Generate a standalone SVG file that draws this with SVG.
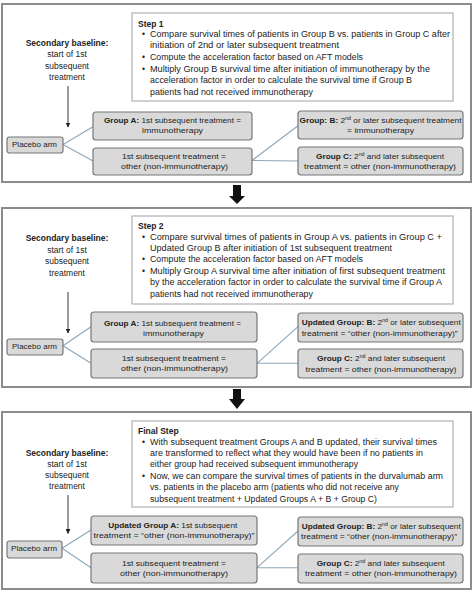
<svg xmlns="http://www.w3.org/2000/svg" width="474" height="593" viewBox="0 0 474 593">
<style>
.t{font-family:"Liberation Sans",Arial,sans-serif;font-size:8.5px;fill:#222}
.n{font-size:8.1px}
.b{font-weight:bold}
.sup{font-size:5.2px}
.panel{fill:#fff;stroke:#8c8c8c;stroke-width:2}
.step{fill:#fff;stroke:#a0a0a0;stroke-width:1}
.node rect{fill:#d9d9d9;stroke:#777;stroke-width:1.2}
.conn line{stroke:#8ca6b9;stroke-width:1.1}
.vline{stroke:#222;stroke-width:0.9;fill:none}
.big{fill:#111}
</style>
<defs>
<marker id="ah" viewBox="0 0 10 10" refX="9" refY="5" markerWidth="5" markerHeight="5" orient="auto" markerUnits="userSpaceOnUse">
<path d="M0,0 L10,5 L0,10 z" fill="#222"/>
</marker>
</defs>
<rect x="0" y="0" width="474" height="593" fill="#fff"/>

<g id="panel1">
<rect class="panel" x="2" y="4" width="469" height="178"/>
<rect class="step" x="132" y="13" width="321" height="88"/>
<text class="t b" x="138" y="27">Step 1</text>
<text class="t" x="142" y="37.3">•</text>
<text class="t" x="150" y="37.3" textLength="300" lengthAdjust="spacingAndGlyphs">Compare survival times of patients in Group B vs. patients in Group C after</text>
<text class="t" x="150" y="48.3" textLength="189" lengthAdjust="spacingAndGlyphs">initiation of 2nd or later subsequent treatment</text>
<text class="t" x="142" y="59.7">•</text>
<text class="t" x="150" y="59.7" textLength="213" lengthAdjust="spacingAndGlyphs">Compute the acceleration factor based on AFT models</text>
<text class="t" x="142" y="72">•</text>
<text class="t" x="150" y="72" textLength="280" lengthAdjust="spacingAndGlyphs">Multiply Group B survival time after initiation of immunotherapy by the</text>
<text class="t" x="150" y="83" textLength="262" lengthAdjust="spacingAndGlyphs">acceleration factor in order to calculate the survival time if Group B</text>
<text class="t" x="150" y="94.7" textLength="163" lengthAdjust="spacingAndGlyphs">patients had not received immunotherapy</text>
<g id="baseline1">
<text class="t b" x="67" y="46" text-anchor="middle">Secondary baseline:</text>
<text class="t" x="67" y="57.3" text-anchor="middle">start of 1st</text>
<text class="t" x="67" y="68.7" text-anchor="middle">subsequent</text>
<text class="t" x="67" y="80" text-anchor="middle">treatment</text>
</g>
</g>

<g id="panel2">
<rect class="panel" x="2" y="208" width="469" height="179"/>
<rect class="step" x="132" y="216" width="321" height="88"/>
<text class="t b" x="138" y="228.7">Step 2</text>
<text class="t" x="142" y="240.3">•</text>
<text class="t" x="150" y="240.3" textLength="292" lengthAdjust="spacingAndGlyphs">Compare survival times of patients in Group A vs. patients in Group C +</text>
<text class="t" x="150" y="251.3" textLength="242" lengthAdjust="spacingAndGlyphs">Updated Group  B after initiation of 1st subsequent treatment</text>
<text class="t" x="142" y="262.3">•</text>
<text class="t" x="150" y="262.3" textLength="213" lengthAdjust="spacingAndGlyphs">Compute the acceleration factor based on AFT models</text>
<text class="t" x="142" y="274">•</text>
<text class="t" x="150" y="274" textLength="295" lengthAdjust="spacingAndGlyphs">Multiply Group A survival time after initiation of first subsequent treatment</text>
<text class="t" x="150" y="285.3" textLength="292" lengthAdjust="spacingAndGlyphs">by the acceleration factor in order to calculate the survival time if Group A</text>
<text class="t" x="150" y="297" textLength="163" lengthAdjust="spacingAndGlyphs">patients had not received immunotherapy</text>
<g id="baseline2">
<text class="t b" x="67" y="241.3" text-anchor="middle">Secondary baseline:</text>
<text class="t" x="67" y="252.8" text-anchor="middle">start of 1st</text>
<text class="t" x="67" y="264.3" text-anchor="middle">subsequent</text>
<text class="t" x="67" y="275.8" text-anchor="middle">treatment</text>
</g>
</g>

<g id="panel3">
<rect class="panel" x="2" y="412" width="469" height="177"/>
<rect class="step" x="132" y="421" width="321" height="86"/>
<text class="t b" x="138" y="434">Final Step</text>
<text class="t" x="142" y="445.3">•</text>
<text class="t" x="150" y="445.3" textLength="287" lengthAdjust="spacingAndGlyphs">With subsequent treatment Groups A and B updated, their survival times</text>
<text class="t" x="150" y="456.3" textLength="273" lengthAdjust="spacingAndGlyphs">are transformed to reflect what they would have been if no patients in</text>
<text class="t" x="150" y="467.3" textLength="208" lengthAdjust="spacingAndGlyphs">either group had received subsequent immunotherapy</text>
<text class="t" x="142" y="478.7">•</text>
<text class="t" x="150" y="478.7" textLength="293" lengthAdjust="spacingAndGlyphs">Now, we can compare the survival times of patients in the durvalumab arm</text>
<text class="t" x="150" y="489.7" textLength="249" lengthAdjust="spacingAndGlyphs">vs. patients in the placebo arm (patients who did not receive any</text>
<text class="t" x="150" y="502.3" textLength="227" lengthAdjust="spacingAndGlyphs">subsequent treatment + Updated Groups A + B + Group  C)</text>
<g id="baseline3">
<text class="t b" x="67" y="456.3" text-anchor="middle">Secondary baseline:</text>
<text class="t" x="67" y="467.3" text-anchor="middle">start of 1st</text>
<text class="t" x="67" y="478" text-anchor="middle">subsequent</text>
<text class="t" x="67" y="489" text-anchor="middle">treatment</text>
</g>
</g>

<path class="big" d="M233,185 H241 V196 H245 L237,204 L229,196 H233 Z"/>
<path class="big" d="M233,389 H241 V399 H245 L237,409 L229,399 H233 Z"/>

<g id="connectors">
<path class="vline" d="M68,86 V127" marker-end="url(#ah)"/>
<path class="vline" d="M68,292 V333" marker-end="url(#ah)"/>
<path class="vline" d="M68,495 V533.5" marker-end="url(#ah)"/>
<g class="conn">
<line x1="63" y1="144.5" x2="93" y2="126.7"/>
<line x1="63" y1="144.5" x2="93" y2="161"/>
<line x1="252" y1="160.5" x2="298" y2="125.7"/>
<line x1="252" y1="160.5" x2="298" y2="161"/>
<line x1="63" y1="345.7" x2="91" y2="326.7"/>
<line x1="63" y1="345.7" x2="91" y2="363.3"/>
<line x1="257" y1="363.3" x2="298" y2="326.7"/>
<line x1="257" y1="363.3" x2="298" y2="363.3"/>
<line x1="62" y1="548.3" x2="91" y2="530"/>
<line x1="62" y1="548.3" x2="91" y2="567.7"/>
<line x1="257" y1="567.7" x2="298" y2="531"/>
<line x1="257" y1="567.7" x2="298" y2="567.7"/>
</g>
</g>

<g id="p1-placebo" class="node"><rect x="7" y="137" width="56" height="16" rx="2.5"/>
<text class="t n" x="12" y="147.3" textLength="45" lengthAdjust="spacingAndGlyphs">Placebo arm</text></g>
<g id="p1-groupA" class="node"><rect x="93" y="112" width="159" height="28" rx="3"/>
<text class="t n" x="104" y="123" textLength="137" lengthAdjust="spacingAndGlyphs"><tspan class="b">Group A:</tspan> 1st subsequent treatment =</text>
<text class="t n" x="142" y="133" textLength="61" lengthAdjust="spacingAndGlyphs">immunotherapy</text></g>
<g id="p1-sub" class="node"><rect x="93" y="148" width="159" height="27" rx="3"/>
<text class="t n" x="122" y="159" textLength="104" lengthAdjust="spacingAndGlyphs">1st subsequent treatment =</text>
<text class="t n" x="121" y="169" textLength="107" lengthAdjust="spacingAndGlyphs">other (non-immunotherapy)</text></g>
<g id="p1-groupB" class="node"><rect x="298" y="111" width="165" height="28" rx="3"/>
<text class="t n" x="299.5" y="122.5" textLength="162" lengthAdjust="spacingAndGlyphs"><tspan class="b">Group: B:</tspan> 2<tspan class="sup" baseline-shift="3">nd</tspan> or later subsequent treatment</text>
<text class="t n" x="347" y="132.5" textLength="67" lengthAdjust="spacingAndGlyphs">= immunotherapy</text></g>
<g id="p1-groupC" class="node"><rect x="298" y="147" width="165" height="28" rx="3"/>
<text class="t n" x="316" y="159" textLength="128" lengthAdjust="spacingAndGlyphs"><tspan class="b">Group C:</tspan> 2<tspan class="sup" baseline-shift="3">nd</tspan> and later subsequent</text>
<text class="t n" x="304" y="169" textLength="152" lengthAdjust="spacingAndGlyphs">treatment = other (non-immunotherapy)</text></g>

<g id="p2-placebo" class="node"><rect x="7" y="339" width="56" height="16" rx="2.5"/>
<text class="t n" x="12" y="348.7" textLength="45" lengthAdjust="spacingAndGlyphs">Placebo arm</text></g>
<g id="p2-groupA" class="node"><rect x="91" y="312" width="166" height="30" rx="3"/>
<text class="t n" x="104" y="326" textLength="137" lengthAdjust="spacingAndGlyphs"><tspan class="b">Group A:</tspan> 1st subsequent treatment =</text>
<text class="t n" x="143" y="335.5" textLength="61" lengthAdjust="spacingAndGlyphs">immunotherapy</text></g>
<g id="p2-sub" class="node"><rect x="91" y="349" width="166" height="29" rx="3"/>
<text class="t n" x="122" y="360.7" textLength="104" lengthAdjust="spacingAndGlyphs">1st subsequent treatment =</text>
<text class="t n" x="121" y="370.7" textLength="107" lengthAdjust="spacingAndGlyphs">other (non-immunotherapy)</text></g>
<g id="p2-groupB" class="node"><rect x="298" y="313" width="165" height="29" rx="3"/>
<text class="t n" x="301.7" y="325" textLength="159" lengthAdjust="spacingAndGlyphs"><tspan class="b">Updated Group: B:</tspan> 2<tspan class="sup" baseline-shift="3">nd</tspan> or later subsequent</text>
<text class="t n" x="301.7" y="335.5" textLength="156" lengthAdjust="spacingAndGlyphs">treatment = “other (non-immunotherapy)”</text></g>
<g id="p2-groupC" class="node"><rect x="298" y="349" width="165" height="29" rx="3"/>
<text class="t n" x="317" y="361" textLength="128" lengthAdjust="spacingAndGlyphs"><tspan class="b">Group C:</tspan> 2<tspan class="sup" baseline-shift="3">nd</tspan> and later subsequent</text>
<text class="t n" x="305.5" y="371.5" textLength="151" lengthAdjust="spacingAndGlyphs">treatment = other (non-immunotherapy)</text></g>

<g id="p3-placebo" class="node"><rect x="7" y="541" width="55" height="17" rx="2.5"/>
<text class="t n" x="11" y="551.3" textLength="46" lengthAdjust="spacingAndGlyphs">Placebo arm</text></g>
<g id="p3-groupA" class="node"><rect x="91" y="516" width="166" height="29" rx="3"/>
<text class="t n" x="108.3" y="527.7" textLength="129" lengthAdjust="spacingAndGlyphs"><tspan class="b">Updated Group A:</tspan> 1st subsequent</text>
<text class="t n" x="93.5" y="538" textLength="161" lengthAdjust="spacingAndGlyphs">treatment = “other (non-immunotherapy)”</text></g>
<g id="p3-sub" class="node"><rect x="91" y="553" width="166" height="30" rx="3"/>
<text class="t n" x="122" y="565.5" textLength="104" lengthAdjust="spacingAndGlyphs">1st subsequent treatment =</text>
<text class="t n" x="120" y="575.5" textLength="108" lengthAdjust="spacingAndGlyphs">other (non-immunotherapy)</text></g>
<g id="p3-groupB" class="node"><rect x="298" y="517" width="165" height="29" rx="3"/>
<text class="t n" x="301.7" y="528.5" textLength="159" lengthAdjust="spacingAndGlyphs"><tspan class="b">Updated Group: B:</tspan> 2<tspan class="sup" baseline-shift="3">nd</tspan> or later subsequent</text>
<text class="t n" x="301" y="539" textLength="156" lengthAdjust="spacingAndGlyphs">treatment = “other (non-immunotherapy)”</text></g>
<g id="p3-groupC" class="node"><rect x="298" y="554" width="165" height="29" rx="3"/>
<text class="t n" x="316.7" y="565.7" textLength="128" lengthAdjust="spacingAndGlyphs"><tspan class="b">Group C:</tspan> 2<tspan class="sup" baseline-shift="3">nd</tspan> and later subsequent</text>
<text class="t n" x="305" y="575.7" textLength="152" lengthAdjust="spacingAndGlyphs">treatment = other (non-immunotherapy)</text></g>
</svg>
